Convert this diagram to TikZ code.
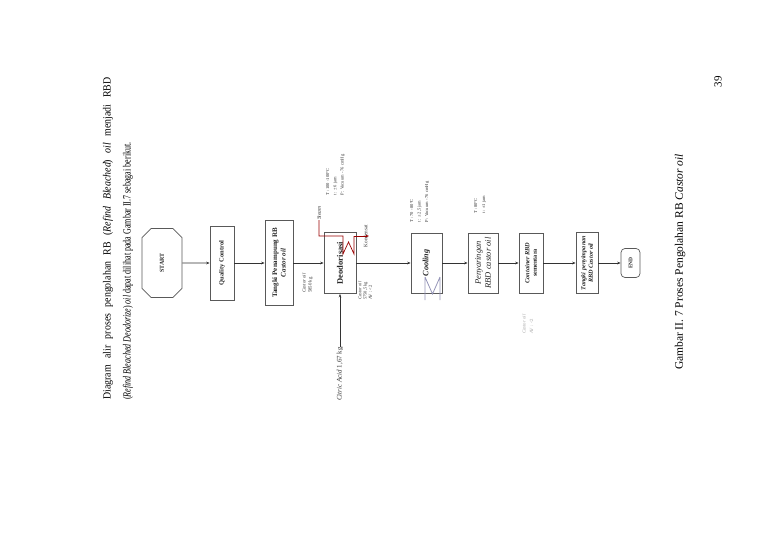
\documentclass[tikz,border=0pt]{standalone}
\usepackage{fontspec}
\usepackage{graphicx}
\setmainfont{Liberation Serif}
\usetikzlibrary{shapes.misc,arrows.meta}
\begin{document}
\begin{tikzpicture}[x=1pt,y=-1pt,
  box/.style={draw=black!65, line width=0.7pt, fill=white, rotate=90, inner sep=1pt, align=center, text=black!85},
  arr/.style={draw=black!80, line width=0.6pt, -{Stealth[length=3.5pt,width=2.6pt]}},
  lbl/.style={rotate=90, text=black!80, inner sep=0pt, align=left},
  redln/.style={draw=red!60!black, line width=0.7pt},
  coil/.style={draw=blue!20!gray!70, line width=0.8pt}]
\useasboundingbox (0,0) rectangle (768,543);
\fill[white] (0,0) rectangle (768,543);

% paragraph text
\node[rotate=90, anchor=west, inner sep=0pt, font=\fontsize{11}{13}\selectfont] (para1) at (108,400)
  {\scalebox{0.9}[1]{\makebox[358pt][s]{Diagram alir proses pengolahan RB (\textit{Refind Bleached}) \textit{oil} menjadi RBD}}};
\node[rotate=90, anchor=west, inner sep=0pt, font=\fontsize{11}{13}\selectfont] (para2) at (128,400)
  {\scalebox{0.73}[1]{(\textit{Refind Bleached Deodorize}) \textit{oil} dapat dilihat pada Gambar II.7 sebagai berikut.}};

% main flow
\node[box, chamfered rectangle, chamfered rectangle xsep=6pt, chamfered rectangle ysep=6pt,
  minimum width=69pt, minimum height=40pt, font=\bfseries\fontsize{6}{7}\selectfont] (start) at (162,263) {START};
\node[box, minimum width=74pt, minimum height=24pt, font=\bfseries\fontsize{6.5}{7.5}\selectfont] (qc) at (222,263) {Quality Control};
\node[box, minimum width=85pt, minimum height=28pt, font=\bfseries\fontsize{7}{8.5}\selectfont] (tk1) at (279,263) {Tangki Penampung RB\\\textit{Castor oil}};
\node[box, minimum width=61pt, minimum height=32pt, font=\bfseries\fontsize{8.5}{10}\selectfont] (deo) at (340,263) {Deodorisasi};
\node[box, minimum width=60pt, minimum height=31pt, font=\bfseries\itshape\fontsize{8.2}{10}\selectfont] (cool) at (426.5,263) {Cooling};
\node[box, minimum width=60pt, minimum height=30pt, font=\itshape\fontsize{8.5}{10}\selectfont] (sar) at (483,263) {Penyaringan\\RBD castor oil};
\node[box, minimum width=60pt, minimum height=24pt, font=\bfseries\fontsize{6.3}{7.5}\selectfont] (cont) at (531,263) {\textit{Container RBD}\\sementara};
\node[box, minimum width=61pt, minimum height=22pt, font=\bfseries\itshape\fontsize{6.2}{7.5}\selectfont] (tk2) at (587,263) {Tangki penyimpanan\\RBD Castor oil};
\node[box, rounded corners=4pt, minimum width=29pt, minimum height=19pt, font=\bfseries\fontsize{5.5}{6.5}\selectfont] (end) at (630.5,263) {END};

\draw[arr] (start) -- (qc);
\draw[arr] (qc) -- (tk1);
\draw[arr] (tk1) -- (deo);
\draw[arr] (deo) -- (cool);
\draw[arr] (cool) -- (sar);
\draw[arr] (sar) -- (cont);
\draw[arr] (cont) -- (tk2);
\draw[arr] (tk2) -- (end);

% citric acid feed
\node[lbl, anchor=east, font=\fontsize{7}{8}\selectfont] (citric) at (340,347) {\textit{Citric Acid} 1,67 kg};
\draw[arr] (citric.east) -- (deo.west);

% steam / condensate
\node[lbl, anchor=west, font=\itshape\fontsize{5.5}{6.5}\selectfont] (steam) at (319,220) {Steam};
\coordinate (s1) at (319,236);
\coordinate (s2) at (343,236);
\coordinate (s3) at (354,236);
\node[lbl, anchor=south, inner sep=1.5pt, font=\fontsize{5.2}{6}\selectfont] (kond) at (369,236) {Kondensat};
\draw[redln] (steam.west) -- (s1) -- (s2) -- (343,254) -- (348.5,242) -- (354,254) -- (s3);
\draw[redln, -{Stealth[length=3.5pt,width=2.6pt]}] (s3) -- (kond.south);

% cooling coil
\draw[coil] (425,277) -- (425,300) (440,277) -- (440,300) (425,277) -- (432.5,294) -- (440,277);

% stream labels
\node[lbl, anchor=north west, font=\fontsize{4.8}{6}\selectfont] (in1) at (302,293) {\textit{Castor oil}\\5850 kg};
\node[lbl, anchor=north west, font=\fontsize{4.5}{5.3}\selectfont] (out1) at (358,300) {\textit{Castor oil}\\5750,5 kg\\AV : <2};
\node[lbl, anchor=north west, text=black!35, font=\fontsize{4.8}{7.5}\selectfont] (out2) at (522,334) {\textit{Castor oil}\\\textit{AV} : <2};

% parameters
\node[lbl, anchor=north west, font=\fontsize{4.5}{7.2}\selectfont] (p1) at (326,196) {T : 100 -100°C\\t : ± 6 jam\\P : Vacuum - 76 cmHg};
\node[lbl, anchor=north west, font=\fontsize{4.5}{7.5}\selectfont] (p2) at (410,223) {T : 70 - 80°C\\t : ± 2,5 jam\\P : Vacuum - 76 cmHg};
\node[lbl, anchor=north west, font=\fontsize{4.5}{8}\selectfont] (p3) at (474,214) {T : 80°C\\t : ±1 jam};

% caption and page number
\node[rotate=90, inner sep=0pt, font=\fontsize{11.5}{13}\selectfont] (cap) at (680,262) {Gambar II. 7 Proses Pengolahan RB \textit{Castor oil}};
\node[rotate=90, inner sep=0pt, font=\fontsize{11}{13}\selectfont] (pg) at (718,82) {39};
\end{tikzpicture}
\end{document}
